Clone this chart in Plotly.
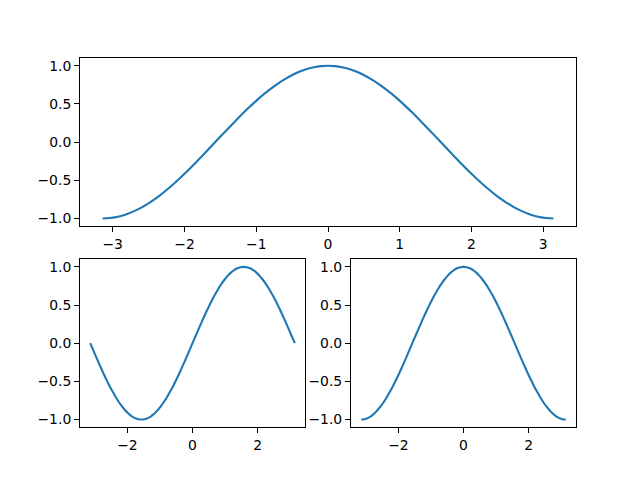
import plotly.graph_objects as go

#Sample points (x in radians).
x_vals = [-3.142, -3.043, -2.945, -2.847, -2.749, -2.651, -2.553, -2.454,
          -2.356, -2.258, -2.160, -2.062, -1.963, -1.865, -1.767, -1.669,
          -1.571, -1.473, -1.374, -1.276, -1.178, -1.080, -0.982, -0.884,
          -0.785, -0.687, -0.589, -0.491, -0.393, -0.295, -0.196, -0.098,
          0.000, 0.098, 0.196, 0.295, 0.393, 0.491, 0.589, 0.687, 0.785,
          0.884, 0.982, 1.080, 1.178, 1.276, 1.374, 1.473, 1.571, 1.669,
          1.767, 1.865, 1.963, 2.062, 2.160, 2.258, 2.356, 2.454, 2.553,
          2.651, 2.749, 2.847, 2.945, 3.043, 3.142]
cos_vals = [-1.000, -0.995, -0.981, -0.957, -0.924, -0.882, -0.831, -0.773,
            -0.707, -0.634, -0.556, -0.471, -0.383, -0.290, -0.195, -0.098,
            0.000, 0.098, 0.195, 0.290, 0.383, 0.471, 0.556, 0.634, 0.707,
            0.773, 0.831, 0.882, 0.924, 0.957, 0.981, 0.995, 1.000, 0.995,
            0.981, 0.957, 0.924, 0.882, 0.831, 0.773, 0.707, 0.634, 0.556,
            0.471, 0.383, 0.290, 0.195, 0.098, 0.000, -0.098, -0.195, -0.290,
            -0.383, -0.471, -0.556, -0.634, -0.707, -0.773, -0.831, -0.882,
            -0.924, -0.957, -0.981, -0.995, -1.000]
sin_vals = [0.000, -0.098, -0.195, -0.290, -0.383, -0.471, -0.556, -0.634,
            -0.707, -0.773, -0.831, -0.882, -0.924, -0.957, -0.981, -0.995,
            -1.000, -0.995, -0.981, -0.957, -0.924, -0.882, -0.831, -0.773,
            -0.707, -0.634, -0.556, -0.471, -0.383, -0.290, -0.195, -0.098,
            0.000, 0.098, 0.195, 0.290, 0.383, 0.471, 0.556, 0.634, 0.707,
            0.773, 0.831, 0.882, 0.924, 0.957, 0.981, 0.995, 1.000, 0.995,
            0.981, 0.957, 0.924, 0.882, 0.831, 0.773, 0.707, 0.634, 0.556,
            0.471, 0.383, 0.290, 0.195, 0.098, 0.000]

#Tick labels.
top_xticks = [-3, -2, -1, 0, 1, 2, 3]
top_xlabels = ["\u22123", "\u22122", "\u22121", "0", "1", "2", "3"]
small_xticks = [-2, 0, 2]
small_xlabels = ["\u22122", "0", "2"]
yticks = [-1.0, -0.5, 0.0, 0.5, 1.0]
ylabels = ["\u22121.0", "\u22120.5", "0.0", "0.5", "1.0"]

line = dict(color="#1f77b4", width=2.1, shape="spline", smoothing=1,
            simplify=False)
fig = go.Figure()
fig.add_trace(go.Scatter(x=x_vals, y=cos_vals, mode="lines", line=line,
                         xaxis="x", yaxis="y"))
fig.add_trace(go.Scatter(x=x_vals, y=sin_vals, mode="lines", line=line,
                         xaxis="x2", yaxis="y2"))
fig.add_trace(go.Scatter(x=x_vals, y=cos_vals, mode="lines", line=line,
                         xaxis="x3", yaxis="y3"))

#Common axis styling (matplotlib-like frame and outside ticks).
ax = dict(showline=True, linecolor="black", linewidth=1, mirror=True,
          showgrid=False, zeroline=False, ticks="outside", ticklen=5,
          tickwidth=1, tickcolor="black",
          tickfont=dict(family="DejaVu Sans", size=13.9, color="black"))

xr = [-3.456, 3.456]
yr = [-1.1, 1.1]
fig.update_layout(
    width=640, height=480, showlegend=False,
    paper_bgcolor="white", plot_bgcolor="white",
    margin=dict(l=0, r=0, t=0, b=0),
    xaxis=dict(ax, domain=[0.125, 0.9], range=xr, anchor="y",
               tickvals=top_xticks, ticktext=top_xlabels),
    yaxis=dict(ax, domain=[0.529, 0.879], range=yr, anchor="x",
               tickvals=yticks, ticktext=ylabels),
    xaxis2=dict(ax, domain=[0.125, 0.4766], range=xr, anchor="y2",
                tickvals=small_xticks, ticktext=small_xlabels),
    yaxis2=dict(ax, domain=[0.11, 0.46], range=yr, anchor="x2",
                tickvals=yticks, ticktext=ylabels),
    xaxis3=dict(ax, domain=[0.5484, 0.9], range=xr, anchor="y3",
                tickvals=small_xticks, ticktext=small_xlabels),
    yaxis3=dict(ax, domain=[0.11, 0.46], range=yr, anchor="x3",
                tickvals=yticks, ticktext=ylabels),
)

#Drop the page margin so the figure sits at the window corner.
fig.write_html("out.html", config={"displayModeBar": False},
               post_script="document.body.style.margin='0';")
